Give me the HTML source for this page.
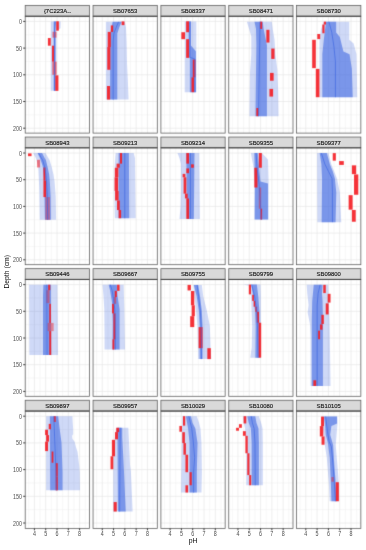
<!DOCTYPE html>
<html><head><meta charset="utf-8"><title>pH depth profiles</title><style>
html,body{margin:0;padding:0;background:#fff;}
svg{display:block;}
#w{width:366px;height:550px;overflow:hidden;}
.mi{stroke:#efefef;stroke-width:0.5;}
.ma{stroke:#e4e4e4;stroke-width:0.65;}
.bd{fill:none;stroke:#555;stroke-width:0.75;}
.sp{fill:#d9d9d9;stroke:#555;stroke-width:0.75;}
.rd{fill:#f41c22;fill-opacity:0.9;}
.lb{fill-opacity:0.25;}
.db{fill-opacity:0.6;}
.sb{stroke:#333;stroke-width:0.8;}
.tk{stroke:#333;stroke-width:1;}
text{font-family:"Liberation Sans",Arial,sans-serif;}
.st{font-size:5.9px;fill:#1a1a1a;stroke:#1a1a1a;stroke-width:0.15px;text-anchor:middle;}
.yl{font-size:6.4px;fill:#4d4d4d;text-anchor:end;}
.xl{font-size:6.4px;fill:#4d4d4d;text-anchor:middle;}
.ti{font-size:6.8px;fill:#000;text-anchor:middle;}
</style></head>
<body><div id="w"><svg width="366" height="550" viewBox="0 0 366 550">
<defs><filter id="bl" x="0" y="0" width="1" height="1" color-interpolation-filters="sRGB"><feConvolveMatrix order="3" kernelMatrix="0.0144 0.0912 0.0144 0.0912 0.5776 0.0912 0.0144 0.0912 0.0144" edgeMode="duplicate" preserveAlpha="true"/></filter><filter id="bt" x="0" y="0" width="366" height="550" filterUnits="userSpaceOnUse" color-interpolation-filters="sRGB"><feConvolveMatrix order="3" kernelMatrix="0.0064 0.0672 0.0064 0.0672 0.7056 0.0672 0.0064 0.0672 0.0064" edgeMode="none"/></filter></defs>
<g filter="url(#bl)"><rect width="366" height="550" fill="#fff"/>
<clipPath id="c00"><rect x="25.2" y="16.2" width="64.25" height="116.9"/></clipPath>
<rect x="25.2" y="16.2" width="64.25" height="116.9" fill="#fff"/>
<g clip-path="url(#c00)"><line x1="28.75" y1="16.2" x2="28.75" y2="133.1" class="mi"/><line x1="40.05" y1="16.2" x2="40.05" y2="133.1" class="mi"/><line x1="51.35" y1="16.2" x2="51.35" y2="133.1" class="mi"/><line x1="62.65" y1="16.2" x2="62.65" y2="133.1" class="mi"/><line x1="73.95" y1="16.2" x2="73.95" y2="133.1" class="mi"/><line x1="85.25" y1="16.2" x2="85.25" y2="133.1" class="mi"/><line x1="25.2" y1="34.75" x2="89.45" y2="34.75" class="mi"/><line x1="25.2" y1="61.45" x2="89.45" y2="61.45" class="mi"/><line x1="25.2" y1="88.15" x2="89.45" y2="88.15" class="mi"/><line x1="25.2" y1="114.85" x2="89.45" y2="114.85" class="mi"/><line x1="34.4" y1="16.2" x2="34.4" y2="133.1" class="ma"/><line x1="45.7" y1="16.2" x2="45.7" y2="133.1" class="ma"/><line x1="57" y1="16.2" x2="57" y2="133.1" class="ma"/><line x1="68.3" y1="16.2" x2="68.3" y2="133.1" class="ma"/><line x1="79.6" y1="16.2" x2="79.6" y2="133.1" class="ma"/><line x1="25.2" y1="21.4" x2="89.45" y2="21.4" class="ma"/><line x1="25.2" y1="48.1" x2="89.45" y2="48.1" class="ma"/><line x1="25.2" y1="74.8" x2="89.45" y2="74.8" class="ma"/><line x1="25.2" y1="101.5" x2="89.45" y2="101.5" class="ma"/><line x1="25.2" y1="128.2" x2="89.45" y2="128.2" class="ma"/><polygon points="50.78,21.41 50.78,90.85 56.37,90.85 56.37,30.96 60.46,28.23 60.74,21.41" fill="#4169e1" class="lb"/><polygon points="53.64,21.41 53.64,90.85 55.55,90.85 55.55,28.91 56.1,21.41" fill="#4169e1" class="db"/><rect x="56.23" y="21.27" width="2.59" height="9.41" class="rd"/><rect x="52.55" y="31.78" width="3.96" height="5.87" class="rd" style="fill-opacity:0.55"/><rect x="47.91" y="38.05" width="2.86" height="7.64" class="rd"/><rect x="52.01" y="45.69" width="2.05" height="15.96" class="rd"/><rect x="52.28" y="61.66" width="4.37" height="13.1" class="rd" style="fill-opacity:0.55"/><rect x="55.28" y="75.3" width="3.14" height="15.55" class="rd"/><polyline points="55.01,21.41 54.6,31.64 54.6,90.85" fill="none" stroke="#4169e1" stroke-width="0.7"/></g>
<rect x="25.2" y="16.2" width="64.25" height="116.9" class="bd"/>
<rect x="25.2" y="5.45" width="64.25" height="10.75" class="sp"/>
<line x1="25.2" y1="16.2" x2="89.45" y2="16.2" class="sb"/>
<clipPath id="c01"><rect x="93.05" y="16.2" width="64.25" height="116.9"/></clipPath>
<rect x="93.05" y="16.2" width="64.25" height="116.9" fill="#fff"/>
<g clip-path="url(#c01)"><line x1="96.6" y1="16.2" x2="96.6" y2="133.1" class="mi"/><line x1="107.9" y1="16.2" x2="107.9" y2="133.1" class="mi"/><line x1="119.2" y1="16.2" x2="119.2" y2="133.1" class="mi"/><line x1="130.5" y1="16.2" x2="130.5" y2="133.1" class="mi"/><line x1="141.8" y1="16.2" x2="141.8" y2="133.1" class="mi"/><line x1="153.1" y1="16.2" x2="153.1" y2="133.1" class="mi"/><line x1="93.05" y1="34.75" x2="157.3" y2="34.75" class="mi"/><line x1="93.05" y1="61.45" x2="157.3" y2="61.45" class="mi"/><line x1="93.05" y1="88.15" x2="157.3" y2="88.15" class="mi"/><line x1="93.05" y1="114.85" x2="157.3" y2="114.85" class="mi"/><line x1="102.25" y1="16.2" x2="102.25" y2="133.1" class="ma"/><line x1="113.55" y1="16.2" x2="113.55" y2="133.1" class="ma"/><line x1="124.85" y1="16.2" x2="124.85" y2="133.1" class="ma"/><line x1="136.15" y1="16.2" x2="136.15" y2="133.1" class="ma"/><line x1="147.45" y1="16.2" x2="147.45" y2="133.1" class="ma"/><line x1="93.05" y1="21.4" x2="157.3" y2="21.4" class="ma"/><line x1="93.05" y1="48.1" x2="157.3" y2="48.1" class="ma"/><line x1="93.05" y1="74.8" x2="157.3" y2="74.8" class="ma"/><line x1="93.05" y1="101.5" x2="157.3" y2="101.5" class="ma"/><line x1="93.05" y1="128.2" x2="157.3" y2="128.2" class="ma"/><polygon points="105.87,21.86 105.87,99.61 128.59,99.61 127.82,79.82 127.05,64.37 126.58,41.18 125.97,27.27 124.73,21.86" fill="#4169e1" class="lb"/><polygon points="112.67,21.86 110.2,33.46 110.05,99.61 117.31,99.61 117.31,33.46 119.32,27.27 121.64,21.86" fill="#4169e1" class="db"/><rect x="121.64" y="21.4" width="2.78" height="3.71" class="rd"/><rect x="110.82" y="25.42" width="2.32" height="6.49" class="rd"/><rect x="107.73" y="31.91" width="3.09" height="15.15" class="rd"/><rect x="107.26" y="47.06" width="3.09" height="22.72" class="rd"/><rect x="106.96" y="86.01" width="3.09" height="13.6" class="rd"/><polyline points="118.55,21.86 116.23,27.27 113.91,33.46 113.14,41.18 113.14,99.61" fill="none" stroke="#4169e1" stroke-width="0.7"/></g>
<rect x="93.05" y="16.2" width="64.25" height="116.9" class="bd"/>
<rect x="93.05" y="5.45" width="64.25" height="10.75" class="sp"/>
<line x1="93.05" y1="16.2" x2="157.3" y2="16.2" class="sb"/>
<clipPath id="c02"><rect x="160.9" y="16.2" width="64.25" height="116.9"/></clipPath>
<rect x="160.9" y="16.2" width="64.25" height="116.9" fill="#fff"/>
<g clip-path="url(#c02)"><line x1="164.45" y1="16.2" x2="164.45" y2="133.1" class="mi"/><line x1="175.75" y1="16.2" x2="175.75" y2="133.1" class="mi"/><line x1="187.05" y1="16.2" x2="187.05" y2="133.1" class="mi"/><line x1="198.35" y1="16.2" x2="198.35" y2="133.1" class="mi"/><line x1="209.65" y1="16.2" x2="209.65" y2="133.1" class="mi"/><line x1="220.95" y1="16.2" x2="220.95" y2="133.1" class="mi"/><line x1="160.9" y1="34.75" x2="225.15" y2="34.75" class="mi"/><line x1="160.9" y1="61.45" x2="225.15" y2="61.45" class="mi"/><line x1="160.9" y1="88.15" x2="225.15" y2="88.15" class="mi"/><line x1="160.9" y1="114.85" x2="225.15" y2="114.85" class="mi"/><line x1="170.1" y1="16.2" x2="170.1" y2="133.1" class="ma"/><line x1="181.4" y1="16.2" x2="181.4" y2="133.1" class="ma"/><line x1="192.7" y1="16.2" x2="192.7" y2="133.1" class="ma"/><line x1="204" y1="16.2" x2="204" y2="133.1" class="ma"/><line x1="215.3" y1="16.2" x2="215.3" y2="133.1" class="ma"/><line x1="160.9" y1="21.4" x2="225.15" y2="21.4" class="ma"/><line x1="160.9" y1="48.1" x2="225.15" y2="48.1" class="ma"/><line x1="160.9" y1="74.8" x2="225.15" y2="74.8" class="ma"/><line x1="160.9" y1="101.5" x2="225.15" y2="101.5" class="ma"/><line x1="160.9" y1="128.2" x2="225.15" y2="128.2" class="ma"/><polygon points="184.74,21.4 184.74,92.19 196.33,92.19 196.33,21.4" fill="#4169e1" class="lb"/><polygon points="188.6,21.4 188.6,56.64 189.84,58.49 189.84,92.19 196.02,92.19 195.87,51.23 190.92,45.51 190.92,21.4" fill="#4169e1" class="db"/><rect x="186.13" y="21.25" width="2.94" height="10.97" class="rd"/><rect x="181.34" y="32.22" width="3.71" height="6.96" class="rd"/><rect x="186.13" y="39.17" width="2.94" height="18.7" class="rd"/><rect x="192.77" y="59.58" width="2.63" height="17.77" class="rd"/><rect x="191.54" y="77.35" width="2.63" height="14.84" class="rd"/><polyline points="189.99,21.4 189.99,57.41 194.78,58.96 194.94,92.19" fill="none" stroke="#4169e1" stroke-width="0.7"/></g>
<rect x="160.9" y="16.2" width="64.25" height="116.9" class="bd"/>
<rect x="160.9" y="5.45" width="64.25" height="10.75" class="sp"/>
<line x1="160.9" y1="16.2" x2="225.15" y2="16.2" class="sb"/>
<clipPath id="c03"><rect x="228.75" y="16.2" width="64.25" height="116.9"/></clipPath>
<rect x="228.75" y="16.2" width="64.25" height="116.9" fill="#fff"/>
<g clip-path="url(#c03)"><line x1="232.3" y1="16.2" x2="232.3" y2="133.1" class="mi"/><line x1="243.6" y1="16.2" x2="243.6" y2="133.1" class="mi"/><line x1="254.9" y1="16.2" x2="254.9" y2="133.1" class="mi"/><line x1="266.2" y1="16.2" x2="266.2" y2="133.1" class="mi"/><line x1="277.5" y1="16.2" x2="277.5" y2="133.1" class="mi"/><line x1="288.8" y1="16.2" x2="288.8" y2="133.1" class="mi"/><line x1="228.75" y1="34.75" x2="293" y2="34.75" class="mi"/><line x1="228.75" y1="61.45" x2="293" y2="61.45" class="mi"/><line x1="228.75" y1="88.15" x2="293" y2="88.15" class="mi"/><line x1="228.75" y1="114.85" x2="293" y2="114.85" class="mi"/><line x1="237.95" y1="16.2" x2="237.95" y2="133.1" class="ma"/><line x1="249.25" y1="16.2" x2="249.25" y2="133.1" class="ma"/><line x1="260.55" y1="16.2" x2="260.55" y2="133.1" class="ma"/><line x1="271.85" y1="16.2" x2="271.85" y2="133.1" class="ma"/><line x1="283.15" y1="16.2" x2="283.15" y2="133.1" class="ma"/><line x1="228.75" y1="21.4" x2="293" y2="21.4" class="ma"/><line x1="228.75" y1="48.1" x2="293" y2="48.1" class="ma"/><line x1="228.75" y1="74.8" x2="293" y2="74.8" class="ma"/><line x1="228.75" y1="101.5" x2="293" y2="101.5" class="ma"/><line x1="228.75" y1="128.2" x2="293" y2="128.2" class="ma"/><polygon points="246.91,21.64 249.09,28.91 251.27,36.18 251.27,54.36 250,72.55 249.45,116.18 278.55,116.18 278.18,90.73 277.27,68.91 275.45,54.36 274.55,39.82 272.73,28.91 271.82,21.64" fill="#4169e1" class="lb"/><polygon points="254.55,21.64 256,28.91 256.36,45.27 255.45,116.18 266.91,116.18 266.91,45.27 263.64,28.91 262.73,21.64" fill="#4169e1" class="db"/><rect x="260" y="21.64" width="2.18" height="7.27" class="rd"/><rect x="266.36" y="29.82" width="3.09" height="12.73" class="rd"/><rect x="271.27" y="48.55" width="3.27" height="10.36" class="rd"/><rect x="270" y="72.91" width="3.64" height="7.82" class="rd"/><rect x="269.45" y="88.91" width="3.64" height="7.64" class="rd"/><rect x="256.36" y="108" width="2.18" height="8.18" class="rd"/><polyline points="260,21.64 259.64,45.27 258.55,116.18" fill="none" stroke="#4169e1" stroke-width="0.7"/></g>
<rect x="228.75" y="16.2" width="64.25" height="116.9" class="bd"/>
<rect x="228.75" y="5.45" width="64.25" height="10.75" class="sp"/>
<line x1="228.75" y1="16.2" x2="293" y2="16.2" class="sb"/>
<clipPath id="c04"><rect x="296.6" y="16.2" width="64.25" height="116.9"/></clipPath>
<rect x="296.6" y="16.2" width="64.25" height="116.9" fill="#fff"/>
<g clip-path="url(#c04)"><line x1="300.15" y1="16.2" x2="300.15" y2="133.1" class="mi"/><line x1="311.45" y1="16.2" x2="311.45" y2="133.1" class="mi"/><line x1="322.75" y1="16.2" x2="322.75" y2="133.1" class="mi"/><line x1="334.05" y1="16.2" x2="334.05" y2="133.1" class="mi"/><line x1="345.35" y1="16.2" x2="345.35" y2="133.1" class="mi"/><line x1="356.65" y1="16.2" x2="356.65" y2="133.1" class="mi"/><line x1="296.6" y1="34.75" x2="360.85" y2="34.75" class="mi"/><line x1="296.6" y1="61.45" x2="360.85" y2="61.45" class="mi"/><line x1="296.6" y1="88.15" x2="360.85" y2="88.15" class="mi"/><line x1="296.6" y1="114.85" x2="360.85" y2="114.85" class="mi"/><line x1="305.8" y1="16.2" x2="305.8" y2="133.1" class="ma"/><line x1="317.1" y1="16.2" x2="317.1" y2="133.1" class="ma"/><line x1="328.4" y1="16.2" x2="328.4" y2="133.1" class="ma"/><line x1="339.7" y1="16.2" x2="339.7" y2="133.1" class="ma"/><line x1="351" y1="16.2" x2="351" y2="133.1" class="ma"/><line x1="296.6" y1="21.4" x2="360.85" y2="21.4" class="ma"/><line x1="296.6" y1="48.1" x2="360.85" y2="48.1" class="ma"/><line x1="296.6" y1="74.8" x2="360.85" y2="74.8" class="ma"/><line x1="296.6" y1="101.5" x2="360.85" y2="101.5" class="ma"/><line x1="296.6" y1="128.2" x2="360.85" y2="128.2" class="ma"/><polygon points="323.81,21.63 320.9,29.63 319.45,39.8 319.45,97.22 357.24,97.22 356.51,54.34 353.6,43.44 349.24,39.8 349.24,21.63" fill="#4169e1" class="lb"/><polygon points="325.99,21.63 323.81,39.8 322.35,54.34 322.35,97.22 352.73,97.22 351.86,68.87 349.53,54.34 343.43,51.43 339.8,36.9 336.16,32.53 336.16,21.63" fill="#4169e1" class="db"/><rect x="323.81" y="21.63" width="2.18" height="2.91" class="rd"/><rect x="322.35" y="24.54" width="2.18" height="8.72" class="rd"/><rect x="317.27" y="33.99" width="2.91" height="5.09" class="rd"/><rect x="312.18" y="39.8" width="3.63" height="28.34" class="rd"/><rect x="315.81" y="68.87" width="3.63" height="28.34" class="rd"/><polyline points="328.9,21.63 331.8,32.53 333.98,47.07 335.44,61.6 335.44,97.22" fill="none" stroke="#4169e1" stroke-width="0.7"/></g>
<rect x="296.6" y="16.2" width="64.25" height="116.9" class="bd"/>
<rect x="296.6" y="5.45" width="64.25" height="10.75" class="sp"/>
<line x1="296.6" y1="16.2" x2="360.85" y2="16.2" class="sb"/>
<clipPath id="c10"><rect x="25.2" y="147.8" width="64.25" height="116.9"/></clipPath>
<rect x="25.2" y="147.8" width="64.25" height="116.9" fill="#fff"/>
<g clip-path="url(#c10)"><line x1="28.75" y1="147.8" x2="28.75" y2="264.7" class="mi"/><line x1="40.05" y1="147.8" x2="40.05" y2="264.7" class="mi"/><line x1="51.35" y1="147.8" x2="51.35" y2="264.7" class="mi"/><line x1="62.65" y1="147.8" x2="62.65" y2="264.7" class="mi"/><line x1="73.95" y1="147.8" x2="73.95" y2="264.7" class="mi"/><line x1="85.25" y1="147.8" x2="85.25" y2="264.7" class="mi"/><line x1="25.2" y1="166.35" x2="89.45" y2="166.35" class="mi"/><line x1="25.2" y1="193.05" x2="89.45" y2="193.05" class="mi"/><line x1="25.2" y1="219.75" x2="89.45" y2="219.75" class="mi"/><line x1="25.2" y1="246.45" x2="89.45" y2="246.45" class="mi"/><line x1="34.4" y1="147.8" x2="34.4" y2="264.7" class="ma"/><line x1="45.7" y1="147.8" x2="45.7" y2="264.7" class="ma"/><line x1="57" y1="147.8" x2="57" y2="264.7" class="ma"/><line x1="68.3" y1="147.8" x2="68.3" y2="264.7" class="ma"/><line x1="79.6" y1="147.8" x2="79.6" y2="264.7" class="ma"/><line x1="25.2" y1="153" x2="89.45" y2="153" class="ma"/><line x1="25.2" y1="179.7" x2="89.45" y2="179.7" class="ma"/><line x1="25.2" y1="206.4" x2="89.45" y2="206.4" class="ma"/><line x1="25.2" y1="233.1" x2="89.45" y2="233.1" class="ma"/><line x1="25.2" y1="259.8" x2="89.45" y2="259.8" class="ma"/><polygon points="33.19,153 35.91,158.19 38.23,166.37 38.78,177.29 39.32,190.93 39.73,219.85 56.11,219.85 55.7,196.38 54.6,181.79 53.51,174.56 51.74,167.33 49.56,159.96 48.47,158.19 45.46,153" fill="#4169e1" class="lb"/><polygon points="37.55,153 40.01,158.19 42.74,166.37 43.83,177.29 44.37,190.93 44.92,219.85 50.92,219.85 50.65,196.38 49.83,181.79 49.15,174.56 47.65,167.33 45.87,159.96 44.78,158.19 42.05,153" fill="#4169e1" class="db"/><rect x="28" y="153.41" width="3.55" height="2.73" class="rd"/><rect x="37.01" y="159.82" width="3" height="7.64" class="rd" style="fill-opacity:0.55"/><rect x="43.42" y="167.46" width="2.05" height="13.23" class="rd"/><rect x="43.42" y="180.7" width="2.73" height="16.37" class="rd"/><rect x="45.46" y="197.07" width="4.37" height="22.78" class="rd" style="fill-opacity:0.4"/><polyline points="38.64,153 41.37,158.19 42.6,159.96 44.78,167.33 45.87,174.56 46.56,181.79 47.37,196.38 47.65,219.85" fill="none" stroke="#4169e1" stroke-width="0.7"/></g>
<rect x="25.2" y="147.8" width="64.25" height="116.9" class="bd"/>
<rect x="25.2" y="137.05" width="64.25" height="10.75" class="sp"/>
<line x1="25.2" y1="147.8" x2="89.45" y2="147.8" class="sb"/>
<clipPath id="c11"><rect x="93.05" y="147.8" width="64.25" height="116.9"/></clipPath>
<rect x="93.05" y="147.8" width="64.25" height="116.9" fill="#fff"/>
<g clip-path="url(#c11)"><line x1="96.6" y1="147.8" x2="96.6" y2="264.7" class="mi"/><line x1="107.9" y1="147.8" x2="107.9" y2="264.7" class="mi"/><line x1="119.2" y1="147.8" x2="119.2" y2="264.7" class="mi"/><line x1="130.5" y1="147.8" x2="130.5" y2="264.7" class="mi"/><line x1="141.8" y1="147.8" x2="141.8" y2="264.7" class="mi"/><line x1="153.1" y1="147.8" x2="153.1" y2="264.7" class="mi"/><line x1="93.05" y1="166.35" x2="157.3" y2="166.35" class="mi"/><line x1="93.05" y1="193.05" x2="157.3" y2="193.05" class="mi"/><line x1="93.05" y1="219.75" x2="157.3" y2="219.75" class="mi"/><line x1="93.05" y1="246.45" x2="157.3" y2="246.45" class="mi"/><line x1="102.25" y1="147.8" x2="102.25" y2="264.7" class="ma"/><line x1="113.55" y1="147.8" x2="113.55" y2="264.7" class="ma"/><line x1="124.85" y1="147.8" x2="124.85" y2="264.7" class="ma"/><line x1="136.15" y1="147.8" x2="136.15" y2="264.7" class="ma"/><line x1="147.45" y1="147.8" x2="147.45" y2="264.7" class="ma"/><line x1="93.05" y1="153" x2="157.3" y2="153" class="ma"/><line x1="93.05" y1="179.7" x2="157.3" y2="179.7" class="ma"/><line x1="93.05" y1="206.4" x2="157.3" y2="206.4" class="ma"/><line x1="93.05" y1="233.1" x2="157.3" y2="233.1" class="ma"/><line x1="93.05" y1="259.8" x2="157.3" y2="259.8" class="ma"/><polygon points="115.64,153 114.82,163.64 114.55,204.57 114.82,218.21 135.7,218.21 135.01,158.19 133.65,153" fill="#4169e1" class="lb"/><polygon points="118.64,153 118.64,218.21 129.28,218.21 128.87,153" fill="#4169e1" class="db"/><rect x="120.01" y="153" width="2.05" height="10.64" class="rd"/><rect x="116.6" y="163.64" width="3.14" height="4.09" class="rd"/><rect x="114.82" y="167.74" width="3.55" height="9.55" class="rd"/><rect x="114.55" y="177.29" width="3.55" height="13.64" class="rd"/><rect x="115.1" y="190.93" width="3.55" height="9.55" class="rd"/><rect x="117.01" y="200.48" width="2.73" height="9.55" class="rd"/><rect x="118.64" y="210.03" width="2.46" height="8.19" class="rd"/><polyline points="124.78,153 124.78,218.21" fill="none" stroke="#4169e1" stroke-width="0.7"/></g>
<rect x="93.05" y="147.8" width="64.25" height="116.9" class="bd"/>
<rect x="93.05" y="137.05" width="64.25" height="10.75" class="sp"/>
<line x1="93.05" y1="147.8" x2="157.3" y2="147.8" class="sb"/>
<clipPath id="c12"><rect x="160.9" y="147.8" width="64.25" height="116.9"/></clipPath>
<rect x="160.9" y="147.8" width="64.25" height="116.9" fill="#fff"/>
<g clip-path="url(#c12)"><line x1="164.45" y1="147.8" x2="164.45" y2="264.7" class="mi"/><line x1="175.75" y1="147.8" x2="175.75" y2="264.7" class="mi"/><line x1="187.05" y1="147.8" x2="187.05" y2="264.7" class="mi"/><line x1="198.35" y1="147.8" x2="198.35" y2="264.7" class="mi"/><line x1="209.65" y1="147.8" x2="209.65" y2="264.7" class="mi"/><line x1="220.95" y1="147.8" x2="220.95" y2="264.7" class="mi"/><line x1="160.9" y1="166.35" x2="225.15" y2="166.35" class="mi"/><line x1="160.9" y1="193.05" x2="225.15" y2="193.05" class="mi"/><line x1="160.9" y1="219.75" x2="225.15" y2="219.75" class="mi"/><line x1="160.9" y1="246.45" x2="225.15" y2="246.45" class="mi"/><line x1="170.1" y1="147.8" x2="170.1" y2="264.7" class="ma"/><line x1="181.4" y1="147.8" x2="181.4" y2="264.7" class="ma"/><line x1="192.7" y1="147.8" x2="192.7" y2="264.7" class="ma"/><line x1="204" y1="147.8" x2="204" y2="264.7" class="ma"/><line x1="215.3" y1="147.8" x2="215.3" y2="264.7" class="ma"/><line x1="160.9" y1="153" x2="225.15" y2="153" class="ma"/><line x1="160.9" y1="179.7" x2="225.15" y2="179.7" class="ma"/><line x1="160.9" y1="206.4" x2="225.15" y2="206.4" class="ma"/><line x1="160.9" y1="233.1" x2="225.15" y2="233.1" class="ma"/><line x1="160.9" y1="259.8" x2="225.15" y2="259.8" class="ma"/><polygon points="177.46,153 179.5,158.19 180.87,163.64 180.87,190.93 180.46,207.3 179.5,218.89 199.97,218.89 199.29,153" fill="#4169e1" class="lb"/><polygon points="186.32,153 187.01,218.89 193.83,218.89 194.51,153" fill="#4169e1" class="db"/><rect x="186.32" y="153" width="2.73" height="10.64" class="rd"/><rect x="191.1" y="164.32" width="2.73" height="3.41" class="rd"/><rect x="186.32" y="168.42" width="2.73" height="4.77" class="rd"/><rect x="182.64" y="173.87" width="2.73" height="3.41" class="rd"/><rect x="183.6" y="177.29" width="2.73" height="16.37" class="rd"/><rect x="184.96" y="193.66" width="2.73" height="4.77" class="rd"/><rect x="186.32" y="198.43" width="2.73" height="20.46" class="rd"/><polyline points="190.42,153 190.42,218.89" fill="none" stroke="#4169e1" stroke-width="0.7"/></g>
<rect x="160.9" y="147.8" width="64.25" height="116.9" class="bd"/>
<rect x="160.9" y="137.05" width="64.25" height="10.75" class="sp"/>
<line x1="160.9" y1="147.8" x2="225.15" y2="147.8" class="sb"/>
<clipPath id="c13"><rect x="228.75" y="147.8" width="64.25" height="116.9"/></clipPath>
<rect x="228.75" y="147.8" width="64.25" height="116.9" fill="#fff"/>
<g clip-path="url(#c13)"><line x1="232.3" y1="147.8" x2="232.3" y2="264.7" class="mi"/><line x1="243.6" y1="147.8" x2="243.6" y2="264.7" class="mi"/><line x1="254.9" y1="147.8" x2="254.9" y2="264.7" class="mi"/><line x1="266.2" y1="147.8" x2="266.2" y2="264.7" class="mi"/><line x1="277.5" y1="147.8" x2="277.5" y2="264.7" class="mi"/><line x1="288.8" y1="147.8" x2="288.8" y2="264.7" class="mi"/><line x1="228.75" y1="166.35" x2="293" y2="166.35" class="mi"/><line x1="228.75" y1="193.05" x2="293" y2="193.05" class="mi"/><line x1="228.75" y1="219.75" x2="293" y2="219.75" class="mi"/><line x1="228.75" y1="246.45" x2="293" y2="246.45" class="mi"/><line x1="237.95" y1="147.8" x2="237.95" y2="264.7" class="ma"/><line x1="249.25" y1="147.8" x2="249.25" y2="264.7" class="ma"/><line x1="260.55" y1="147.8" x2="260.55" y2="264.7" class="ma"/><line x1="271.85" y1="147.8" x2="271.85" y2="264.7" class="ma"/><line x1="283.15" y1="147.8" x2="283.15" y2="264.7" class="ma"/><line x1="228.75" y1="153" x2="293" y2="153" class="ma"/><line x1="228.75" y1="179.7" x2="293" y2="179.7" class="ma"/><line x1="228.75" y1="206.4" x2="293" y2="206.4" class="ma"/><line x1="228.75" y1="233.1" x2="293" y2="233.1" class="ma"/><line x1="228.75" y1="259.8" x2="293" y2="259.8" class="ma"/><polygon points="250.91,153 252.01,159.55 253.64,167.74 254.32,184.11 254.32,219.58 268.65,219.58 268.65,182.74 267.97,159.55 261.83,153" fill="#4169e1" class="lb"/><polygon points="254.32,153 255.01,184.11 254.73,219.58 267.97,219.58 267.97,183.42 260.46,181.38 259.1,167.74 257.74,153" fill="#4169e1" class="db"/><rect x="258.83" y="153" width="3" height="14.73" class="rd"/><rect x="254.32" y="167.74" width="3.14" height="19.78" class="rd"/><rect x="258.83" y="187.52" width="2.32" height="21.15" class="rd" style="fill-opacity:0.45"/><rect x="260.46" y="208.66" width="1.64" height="10.91" class="rd"/><polyline points="256.1,153 257.05,167.74 259.1,184.11 260.46,204.57 261.15,219.58" fill="none" stroke="#4169e1" stroke-width="0.7"/></g>
<rect x="228.75" y="147.8" width="64.25" height="116.9" class="bd"/>
<rect x="228.75" y="137.05" width="64.25" height="10.75" class="sp"/>
<line x1="228.75" y1="147.8" x2="293" y2="147.8" class="sb"/>
<clipPath id="c14"><rect x="296.6" y="147.8" width="64.25" height="116.9"/></clipPath>
<rect x="296.6" y="147.8" width="64.25" height="116.9" fill="#fff"/>
<g clip-path="url(#c14)"><line x1="300.15" y1="147.8" x2="300.15" y2="264.7" class="mi"/><line x1="311.45" y1="147.8" x2="311.45" y2="264.7" class="mi"/><line x1="322.75" y1="147.8" x2="322.75" y2="264.7" class="mi"/><line x1="334.05" y1="147.8" x2="334.05" y2="264.7" class="mi"/><line x1="345.35" y1="147.8" x2="345.35" y2="264.7" class="mi"/><line x1="356.65" y1="147.8" x2="356.65" y2="264.7" class="mi"/><line x1="296.6" y1="166.35" x2="360.85" y2="166.35" class="mi"/><line x1="296.6" y1="193.05" x2="360.85" y2="193.05" class="mi"/><line x1="296.6" y1="219.75" x2="360.85" y2="219.75" class="mi"/><line x1="296.6" y1="246.45" x2="360.85" y2="246.45" class="mi"/><line x1="305.8" y1="147.8" x2="305.8" y2="264.7" class="ma"/><line x1="317.1" y1="147.8" x2="317.1" y2="264.7" class="ma"/><line x1="328.4" y1="147.8" x2="328.4" y2="264.7" class="ma"/><line x1="339.7" y1="147.8" x2="339.7" y2="264.7" class="ma"/><line x1="351" y1="147.8" x2="351" y2="264.7" class="ma"/><line x1="296.6" y1="153" x2="360.85" y2="153" class="ma"/><line x1="296.6" y1="179.7" x2="360.85" y2="179.7" class="ma"/><line x1="296.6" y1="206.4" x2="360.85" y2="206.4" class="ma"/><line x1="296.6" y1="233.1" x2="360.85" y2="233.1" class="ma"/><line x1="296.6" y1="259.8" x2="360.85" y2="259.8" class="ma"/><polygon points="317.1,153.12 317.39,222.16 341.25,222.16 340.54,206.82 339.83,192.61 336.99,178.41 331.31,164.2 328.47,153.12" fill="#4169e1" class="lb"/><polygon points="319.66,153.12 321.36,164.2 322.07,178.41 321.65,222.16 335.57,222.16 336.28,192.61 334.86,178.41 332.73,171.31 329.89,164.2 326.76,153.12" fill="#4169e1" class="db"/><rect x="332.73" y="153.12" width="3.12" height="7.53" class="rd"/><rect x="339.12" y="161.08" width="4.69" height="3.84" class="rd"/><rect x="351.9" y="165.34" width="4.26" height="8.81" class="rd"/><rect x="354.03" y="174.43" width="4.26" height="20.31" class="rd"/><rect x="348.64" y="195.17" width="3.98" height="14.49" class="rd"/><rect x="351.9" y="209.94" width="3.84" height="11.79" class="rd"/><polyline points="321.36,153.12 324.91,164.2 328.47,171.31 332.02,178.41 332.44,192.61 332.44,222.16" fill="none" stroke="#4169e1" stroke-width="0.7"/></g>
<rect x="296.6" y="147.8" width="64.25" height="116.9" class="bd"/>
<rect x="296.6" y="137.05" width="64.25" height="10.75" class="sp"/>
<line x1="296.6" y1="147.8" x2="360.85" y2="147.8" class="sb"/>
<clipPath id="c20"><rect x="25.2" y="279.4" width="64.25" height="116.9"/></clipPath>
<rect x="25.2" y="279.4" width="64.25" height="116.9" fill="#fff"/>
<g clip-path="url(#c20)"><line x1="28.75" y1="279.4" x2="28.75" y2="396.3" class="mi"/><line x1="40.05" y1="279.4" x2="40.05" y2="396.3" class="mi"/><line x1="51.35" y1="279.4" x2="51.35" y2="396.3" class="mi"/><line x1="62.65" y1="279.4" x2="62.65" y2="396.3" class="mi"/><line x1="73.95" y1="279.4" x2="73.95" y2="396.3" class="mi"/><line x1="85.25" y1="279.4" x2="85.25" y2="396.3" class="mi"/><line x1="25.2" y1="297.95" x2="89.45" y2="297.95" class="mi"/><line x1="25.2" y1="324.65" x2="89.45" y2="324.65" class="mi"/><line x1="25.2" y1="351.35" x2="89.45" y2="351.35" class="mi"/><line x1="25.2" y1="378.05" x2="89.45" y2="378.05" class="mi"/><line x1="34.4" y1="279.4" x2="34.4" y2="396.3" class="ma"/><line x1="45.7" y1="279.4" x2="45.7" y2="396.3" class="ma"/><line x1="57" y1="279.4" x2="57" y2="396.3" class="ma"/><line x1="68.3" y1="279.4" x2="68.3" y2="396.3" class="ma"/><line x1="79.6" y1="279.4" x2="79.6" y2="396.3" class="ma"/><line x1="25.2" y1="284.6" x2="89.45" y2="284.6" class="ma"/><line x1="25.2" y1="311.3" x2="89.45" y2="311.3" class="ma"/><line x1="25.2" y1="338" x2="89.45" y2="338" class="ma"/><line x1="25.2" y1="364.7" x2="89.45" y2="364.7" class="ma"/><line x1="25.2" y1="391.4" x2="89.45" y2="391.4" class="ma"/><polygon points="29.09,284.73 29.37,354.99 58.02,354.99 57.47,284.73" fill="#4169e1" class="lb"/><polygon points="43.42,284.73 43.01,295.64 43.01,354.99 51.19,354.99 50.92,284.73" fill="#4169e1" class="db"/><rect x="48.19" y="284.73" width="2.05" height="5.46" class="rd"/><rect x="46.15" y="290.19" width="3.41" height="12.96" class="rd" style="fill-opacity:0.45"/><rect x="49.28" y="303.83" width="1.64" height="19.1" class="rd"/><rect x="47.51" y="322.93" width="6.14" height="8.19" class="rd" style="fill-opacity:0.45"/><rect x="49.28" y="331.11" width="1.91" height="23.87" class="rd"/><polyline points="46.83,284.73 47.1,354.99" fill="none" stroke="#4169e1" stroke-width="0.7"/></g>
<rect x="25.2" y="279.4" width="64.25" height="116.9" class="bd"/>
<rect x="25.2" y="268.65" width="64.25" height="10.75" class="sp"/>
<line x1="25.2" y1="279.4" x2="89.45" y2="279.4" class="sb"/>
<clipPath id="c21"><rect x="93.05" y="279.4" width="64.25" height="116.9"/></clipPath>
<rect x="93.05" y="279.4" width="64.25" height="116.9" fill="#fff"/>
<g clip-path="url(#c21)"><line x1="96.6" y1="279.4" x2="96.6" y2="396.3" class="mi"/><line x1="107.9" y1="279.4" x2="107.9" y2="396.3" class="mi"/><line x1="119.2" y1="279.4" x2="119.2" y2="396.3" class="mi"/><line x1="130.5" y1="279.4" x2="130.5" y2="396.3" class="mi"/><line x1="141.8" y1="279.4" x2="141.8" y2="396.3" class="mi"/><line x1="153.1" y1="279.4" x2="153.1" y2="396.3" class="mi"/><line x1="93.05" y1="297.95" x2="157.3" y2="297.95" class="mi"/><line x1="93.05" y1="324.65" x2="157.3" y2="324.65" class="mi"/><line x1="93.05" y1="351.35" x2="157.3" y2="351.35" class="mi"/><line x1="93.05" y1="378.05" x2="157.3" y2="378.05" class="mi"/><line x1="102.25" y1="279.4" x2="102.25" y2="396.3" class="ma"/><line x1="113.55" y1="279.4" x2="113.55" y2="396.3" class="ma"/><line x1="124.85" y1="279.4" x2="124.85" y2="396.3" class="ma"/><line x1="136.15" y1="279.4" x2="136.15" y2="396.3" class="ma"/><line x1="147.45" y1="279.4" x2="147.45" y2="396.3" class="ma"/><line x1="93.05" y1="284.6" x2="157.3" y2="284.6" class="ma"/><line x1="93.05" y1="311.3" x2="157.3" y2="311.3" class="ma"/><line x1="93.05" y1="338" x2="157.3" y2="338" class="ma"/><line x1="93.05" y1="364.7" x2="157.3" y2="364.7" class="ma"/><line x1="93.05" y1="391.4" x2="157.3" y2="391.4" class="ma"/><polygon points="102.5,284.73 103.46,295.64 104.28,309.29 104.55,336.57 104.55,349.53 125.01,349.53 124.33,309.29 123.65,284.73" fill="#4169e1" class="lb"/><polygon points="108.64,284.73 110.01,290.19 112.05,302.46 112.74,322.93 112.46,349.53 119.56,349.53 119.56,309.29 117.51,295.64 116.83,284.73" fill="#4169e1" class="db"/><rect x="117.1" y="284.73" width="2.46" height="6.14" class="rd"/><rect x="114.78" y="290.87" width="2.05" height="6.14" class="rd"/><rect x="113.83" y="297.01" width="2.32" height="6.82" class="rd" style="fill-opacity:0.5"/><rect x="112.05" y="303.83" width="2.05" height="9.55" class="rd"/><rect x="113.42" y="313.38" width="2.05" height="25.92" class="rd"/><rect x="112.46" y="339.3" width="1.91" height="10.23" class="rd"/><polyline points="110.28,284.73 112.05,290.19 113.42,298.37 114.78,309.29 115.19,322.93 115.46,349.53" fill="none" stroke="#4169e1" stroke-width="0.7"/></g>
<rect x="93.05" y="279.4" width="64.25" height="116.9" class="bd"/>
<rect x="93.05" y="268.65" width="64.25" height="10.75" class="sp"/>
<line x1="93.05" y1="279.4" x2="157.3" y2="279.4" class="sb"/>
<clipPath id="c22"><rect x="160.9" y="279.4" width="64.25" height="116.9"/></clipPath>
<rect x="160.9" y="279.4" width="64.25" height="116.9" fill="#fff"/>
<g clip-path="url(#c22)"><line x1="164.45" y1="279.4" x2="164.45" y2="396.3" class="mi"/><line x1="175.75" y1="279.4" x2="175.75" y2="396.3" class="mi"/><line x1="187.05" y1="279.4" x2="187.05" y2="396.3" class="mi"/><line x1="198.35" y1="279.4" x2="198.35" y2="396.3" class="mi"/><line x1="209.65" y1="279.4" x2="209.65" y2="396.3" class="mi"/><line x1="220.95" y1="279.4" x2="220.95" y2="396.3" class="mi"/><line x1="160.9" y1="297.95" x2="225.15" y2="297.95" class="mi"/><line x1="160.9" y1="324.65" x2="225.15" y2="324.65" class="mi"/><line x1="160.9" y1="351.35" x2="225.15" y2="351.35" class="mi"/><line x1="160.9" y1="378.05" x2="225.15" y2="378.05" class="mi"/><line x1="170.1" y1="279.4" x2="170.1" y2="396.3" class="ma"/><line x1="181.4" y1="279.4" x2="181.4" y2="396.3" class="ma"/><line x1="192.7" y1="279.4" x2="192.7" y2="396.3" class="ma"/><line x1="204" y1="279.4" x2="204" y2="396.3" class="ma"/><line x1="215.3" y1="279.4" x2="215.3" y2="396.3" class="ma"/><line x1="160.9" y1="284.6" x2="225.15" y2="284.6" class="ma"/><line x1="160.9" y1="311.3" x2="225.15" y2="311.3" class="ma"/><line x1="160.9" y1="338" x2="225.15" y2="338" class="ma"/><line x1="160.9" y1="364.7" x2="225.15" y2="364.7" class="ma"/><line x1="160.9" y1="391.4" x2="225.15" y2="391.4" class="ma"/><polygon points="193.38,284.91 194.55,296.55 196,311.09 197.45,325.64 198.18,359.09 211.27,359.09 210.55,347.45 209.82,325.64 206.91,311.09 203.27,296.55 201.82,284.91" fill="#4169e1" class="lb"/><polygon points="193.82,284.91 196.73,296.55 198.91,311.09 199.64,325.64 199.64,359.09 202.55,359.09 202.55,325.64 201.82,311.09 200.07,296.55 198.18,284.91" fill="#4169e1" class="db"/><rect x="187.56" y="284.91" width="3.35" height="5.53" class="rd"/><rect x="190.91" y="291.02" width="3.35" height="14.25" class="rd"/><rect x="191.64" y="305.27" width="3.2" height="10.91" class="rd"/><rect x="190.18" y="316.18" width="4.07" height="10.91" class="rd"/><rect x="198.62" y="327.09" width="3.93" height="21.09" class="rd"/><rect x="207.35" y="348.18" width="3.49" height="10.91" class="rd"/><polyline points="197.16,284.91 198.62,296.55 200.36,311.09 201.09,325.64 201.53,359.09" fill="none" stroke="#4169e1" stroke-width="0.7"/></g>
<rect x="160.9" y="279.4" width="64.25" height="116.9" class="bd"/>
<rect x="160.9" y="268.65" width="64.25" height="10.75" class="sp"/>
<line x1="160.9" y1="279.4" x2="225.15" y2="279.4" class="sb"/>
<clipPath id="c23"><rect x="228.75" y="279.4" width="64.25" height="116.9"/></clipPath>
<rect x="228.75" y="279.4" width="64.25" height="116.9" fill="#fff"/>
<g clip-path="url(#c23)"><line x1="232.3" y1="279.4" x2="232.3" y2="396.3" class="mi"/><line x1="243.6" y1="279.4" x2="243.6" y2="396.3" class="mi"/><line x1="254.9" y1="279.4" x2="254.9" y2="396.3" class="mi"/><line x1="266.2" y1="279.4" x2="266.2" y2="396.3" class="mi"/><line x1="277.5" y1="279.4" x2="277.5" y2="396.3" class="mi"/><line x1="288.8" y1="279.4" x2="288.8" y2="396.3" class="mi"/><line x1="228.75" y1="297.95" x2="293" y2="297.95" class="mi"/><line x1="228.75" y1="324.65" x2="293" y2="324.65" class="mi"/><line x1="228.75" y1="351.35" x2="293" y2="351.35" class="mi"/><line x1="228.75" y1="378.05" x2="293" y2="378.05" class="mi"/><line x1="237.95" y1="279.4" x2="237.95" y2="396.3" class="ma"/><line x1="249.25" y1="279.4" x2="249.25" y2="396.3" class="ma"/><line x1="260.55" y1="279.4" x2="260.55" y2="396.3" class="ma"/><line x1="271.85" y1="279.4" x2="271.85" y2="396.3" class="ma"/><line x1="283.15" y1="279.4" x2="283.15" y2="396.3" class="ma"/><line x1="228.75" y1="284.6" x2="293" y2="284.6" class="ma"/><line x1="228.75" y1="311.3" x2="293" y2="311.3" class="ma"/><line x1="228.75" y1="338" x2="293" y2="338" class="ma"/><line x1="228.75" y1="364.7" x2="293" y2="364.7" class="ma"/><line x1="228.75" y1="391.4" x2="293" y2="391.4" class="ma"/><polygon points="243,284.62 249.55,285.64 251,296.55 252.16,325.64 251.73,347.45 250.27,357.64 260.89,357.64 260.89,296.55 260.45,284.62" fill="#4169e1" class="lb"/><polygon points="251.29,284.62 253.18,296.55 255.07,311.09 255.65,325.64 255.36,357.64 259.73,357.64 259.44,311.09 258.27,296.55 256.82,284.62" fill="#4169e1" class="db"/><rect x="248.82" y="284.62" width="2.18" height="9.75" class="rd"/><rect x="252.16" y="294.8" width="1.75" height="6.11" class="rd"/><rect x="253.62" y="300.91" width="1.75" height="5.82" class="rd"/><rect x="255.36" y="306.73" width="1.75" height="5.09" class="rd"/><rect x="256.82" y="311.82" width="2.18" height="10.91" class="rd"/><rect x="258.56" y="322.73" width="2.62" height="34.91" class="rd"/><polyline points="251.73,284.62 253.18,290.73 254.64,296.55 256.82,311.09 257.55,325.64 257.98,357.64" fill="none" stroke="#4169e1" stroke-width="0.7"/></g>
<rect x="228.75" y="279.4" width="64.25" height="116.9" class="bd"/>
<rect x="228.75" y="268.65" width="64.25" height="10.75" class="sp"/>
<line x1="228.75" y1="279.4" x2="293" y2="279.4" class="sb"/>
<clipPath id="c24"><rect x="296.6" y="279.4" width="64.25" height="116.9"/></clipPath>
<rect x="296.6" y="279.4" width="64.25" height="116.9" fill="#fff"/>
<g clip-path="url(#c24)"><line x1="300.15" y1="279.4" x2="300.15" y2="396.3" class="mi"/><line x1="311.45" y1="279.4" x2="311.45" y2="396.3" class="mi"/><line x1="322.75" y1="279.4" x2="322.75" y2="396.3" class="mi"/><line x1="334.05" y1="279.4" x2="334.05" y2="396.3" class="mi"/><line x1="345.35" y1="279.4" x2="345.35" y2="396.3" class="mi"/><line x1="356.65" y1="279.4" x2="356.65" y2="396.3" class="mi"/><line x1="296.6" y1="297.95" x2="360.85" y2="297.95" class="mi"/><line x1="296.6" y1="324.65" x2="360.85" y2="324.65" class="mi"/><line x1="296.6" y1="351.35" x2="360.85" y2="351.35" class="mi"/><line x1="296.6" y1="378.05" x2="360.85" y2="378.05" class="mi"/><line x1="305.8" y1="279.4" x2="305.8" y2="396.3" class="ma"/><line x1="317.1" y1="279.4" x2="317.1" y2="396.3" class="ma"/><line x1="328.4" y1="279.4" x2="328.4" y2="396.3" class="ma"/><line x1="339.7" y1="279.4" x2="339.7" y2="396.3" class="ma"/><line x1="351" y1="279.4" x2="351" y2="396.3" class="ma"/><line x1="296.6" y1="284.6" x2="360.85" y2="284.6" class="ma"/><line x1="296.6" y1="311.3" x2="360.85" y2="311.3" class="ma"/><line x1="296.6" y1="338" x2="360.85" y2="338" class="ma"/><line x1="296.6" y1="364.7" x2="360.85" y2="364.7" class="ma"/><line x1="296.6" y1="391.4" x2="360.85" y2="391.4" class="ma"/><polygon points="306.68,284.86 307.25,293.45 308.59,304.9 307.63,312.53 309.92,323.98 310.5,339.25 310.5,386.01 330.53,386.01 329.58,320.17 328.63,301.08 328.24,284.86" fill="#4169e1" class="lb"/><polygon points="313.74,284.86 312.21,301.08 311.83,320.17 311.83,386.01 322.9,386.01 322.9,320.17 322.52,301.08 321.95,293.45 322.52,284.86" fill="#4169e1" class="db"/><rect x="323.28" y="284.86" width="2.48" height="8.21" class="rd"/><rect x="327.67" y="293.83" width="2.86" height="8.78" class="rd"/><rect x="325.76" y="303.37" width="2.86" height="11.07" class="rd"/><rect x="321.37" y="314.82" width="2.48" height="9.16" class="rd"/><rect x="320.04" y="324.37" width="2.48" height="5.34" class="rd"/><rect x="318.13" y="330.66" width="1.91" height="8.59" class="rd"/><rect x="313.36" y="380.28" width="2.86" height="5.73" class="rd"/><polyline points="320.04,284.86 318.13,293.45 317.18,304.9 317.18,320.17 317.18,386.01" fill="none" stroke="#4169e1" stroke-width="0.7"/></g>
<rect x="296.6" y="279.4" width="64.25" height="116.9" class="bd"/>
<rect x="296.6" y="268.65" width="64.25" height="10.75" class="sp"/>
<line x1="296.6" y1="279.4" x2="360.85" y2="279.4" class="sb"/>
<clipPath id="c30"><rect x="25.2" y="411" width="64.25" height="117.4"/></clipPath>
<rect x="25.2" y="411" width="64.25" height="117.4" fill="#fff"/>
<g clip-path="url(#c30)"><line x1="28.75" y1="411" x2="28.75" y2="528.4" class="mi"/><line x1="40.05" y1="411" x2="40.05" y2="528.4" class="mi"/><line x1="51.35" y1="411" x2="51.35" y2="528.4" class="mi"/><line x1="62.65" y1="411" x2="62.65" y2="528.4" class="mi"/><line x1="73.95" y1="411" x2="73.95" y2="528.4" class="mi"/><line x1="85.25" y1="411" x2="85.25" y2="528.4" class="mi"/><line x1="25.2" y1="429.55" x2="89.45" y2="429.55" class="mi"/><line x1="25.2" y1="456.25" x2="89.45" y2="456.25" class="mi"/><line x1="25.2" y1="482.95" x2="89.45" y2="482.95" class="mi"/><line x1="25.2" y1="509.65" x2="89.45" y2="509.65" class="mi"/><line x1="34.4" y1="411" x2="34.4" y2="528.4" class="ma"/><line x1="45.7" y1="411" x2="45.7" y2="528.4" class="ma"/><line x1="57" y1="411" x2="57" y2="528.4" class="ma"/><line x1="68.3" y1="411" x2="68.3" y2="528.4" class="ma"/><line x1="79.6" y1="411" x2="79.6" y2="528.4" class="ma"/><line x1="25.2" y1="416.2" x2="89.45" y2="416.2" class="ma"/><line x1="25.2" y1="442.9" x2="89.45" y2="442.9" class="ma"/><line x1="25.2" y1="469.6" x2="89.45" y2="469.6" class="ma"/><line x1="25.2" y1="496.3" x2="89.45" y2="496.3" class="ma"/><line x1="25.2" y1="523" x2="89.45" y2="523" class="ma"/><polygon points="46.11,416.18 46.11,490.36 80,490.36 79.71,472.18 79.13,464.91 78.25,457.64 77.53,451.82 76.07,447.45 74.62,441.64 72.44,438.73 72.15,435.82 73.16,434.36 73.16,428.55 72.73,422.73 72.44,416.18" fill="#4169e1" class="lb"/><polygon points="49.89,416.18 50.18,490.36 62.55,490.36 62.55,472.18 61.53,443.09 59.64,428.55 58.18,416.18" fill="#4169e1" class="db"/><rect x="53.82" y="416.18" width="1.89" height="5.82" class="rd"/><rect x="48.73" y="423.89" width="2.18" height="5.38" class="rd"/><rect x="45.09" y="429.71" width="2.91" height="5.38" class="rd"/><rect x="46.11" y="435.09" width="2.91" height="6.55" class="rd"/><rect x="45.09" y="441.64" width="2.91" height="9.45" class="rd"/><rect x="51.64" y="451.53" width="1.75" height="11.2" class="rd"/><rect x="55.71" y="463.16" width="2.04" height="13.38" class="rd"/><rect x="55.71" y="476.55" width="2.04" height="13.82" class="rd"/><polyline points="53.82,416.18 54.84,443.09 56,472.18 56.29,490.36" fill="none" stroke="#4169e1" stroke-width="0.7"/></g>
<rect x="25.2" y="411" width="64.25" height="117.4" class="bd"/>
<rect x="25.2" y="400.25" width="64.25" height="10.75" class="sp"/>
<line x1="25.2" y1="411" x2="89.45" y2="411" class="sb"/>
<clipPath id="c31"><rect x="93.05" y="411" width="64.25" height="117.4"/></clipPath>
<rect x="93.05" y="411" width="64.25" height="117.4" fill="#fff"/>
<g clip-path="url(#c31)"><line x1="96.6" y1="411" x2="96.6" y2="528.4" class="mi"/><line x1="107.9" y1="411" x2="107.9" y2="528.4" class="mi"/><line x1="119.2" y1="411" x2="119.2" y2="528.4" class="mi"/><line x1="130.5" y1="411" x2="130.5" y2="528.4" class="mi"/><line x1="141.8" y1="411" x2="141.8" y2="528.4" class="mi"/><line x1="153.1" y1="411" x2="153.1" y2="528.4" class="mi"/><line x1="93.05" y1="429.55" x2="157.3" y2="429.55" class="mi"/><line x1="93.05" y1="456.25" x2="157.3" y2="456.25" class="mi"/><line x1="93.05" y1="482.95" x2="157.3" y2="482.95" class="mi"/><line x1="93.05" y1="509.65" x2="157.3" y2="509.65" class="mi"/><line x1="102.25" y1="411" x2="102.25" y2="528.4" class="ma"/><line x1="113.55" y1="411" x2="113.55" y2="528.4" class="ma"/><line x1="124.85" y1="411" x2="124.85" y2="528.4" class="ma"/><line x1="136.15" y1="411" x2="136.15" y2="528.4" class="ma"/><line x1="147.45" y1="411" x2="147.45" y2="528.4" class="ma"/><line x1="93.05" y1="416.2" x2="157.3" y2="416.2" class="ma"/><line x1="93.05" y1="442.9" x2="157.3" y2="442.9" class="ma"/><line x1="93.05" y1="469.6" x2="157.3" y2="469.6" class="ma"/><line x1="93.05" y1="496.3" x2="157.3" y2="496.3" class="ma"/><line x1="93.05" y1="523" x2="157.3" y2="523" class="ma"/><polygon points="116.23,427.77 115.36,433.82 113.64,445.91 113.29,471.81 113.29,511.54 132.63,511.54 130.91,471.81 130.04,464.91 129.18,445.91 128.32,427.77" fill="#4169e1" class="lb"/><polygon points="117.09,427.77 117.44,437.27 117.95,511.54 125.73,511.54 124,471.81 122.27,437.27 122.27,427.77" fill="#4169e1" class="db"/><rect x="116.23" y="427.77" width="2.94" height="4.32" class="rd"/><rect x="115.02" y="432.09" width="2.94" height="7.25" class="rd"/><rect x="111.91" y="439.86" width="3.11" height="16.41" class="rd"/><rect x="110.53" y="456.27" width="2.76" height="12.95" class="rd"/><rect x="113.64" y="502.04" width="3.11" height="9.5" class="rd"/><polyline points="120.2,427.77 119.68,511.54" fill="none" stroke="#4169e1" stroke-width="0.7"/></g>
<rect x="93.05" y="411" width="64.25" height="117.4" class="bd"/>
<rect x="93.05" y="400.25" width="64.25" height="10.75" class="sp"/>
<line x1="93.05" y1="411" x2="157.3" y2="411" class="sb"/>
<clipPath id="c32"><rect x="160.9" y="411" width="64.25" height="117.4"/></clipPath>
<rect x="160.9" y="411" width="64.25" height="117.4" fill="#fff"/>
<g clip-path="url(#c32)"><line x1="164.45" y1="411" x2="164.45" y2="528.4" class="mi"/><line x1="175.75" y1="411" x2="175.75" y2="528.4" class="mi"/><line x1="187.05" y1="411" x2="187.05" y2="528.4" class="mi"/><line x1="198.35" y1="411" x2="198.35" y2="528.4" class="mi"/><line x1="209.65" y1="411" x2="209.65" y2="528.4" class="mi"/><line x1="220.95" y1="411" x2="220.95" y2="528.4" class="mi"/><line x1="160.9" y1="429.55" x2="225.15" y2="429.55" class="mi"/><line x1="160.9" y1="456.25" x2="225.15" y2="456.25" class="mi"/><line x1="160.9" y1="482.95" x2="225.15" y2="482.95" class="mi"/><line x1="160.9" y1="509.65" x2="225.15" y2="509.65" class="mi"/><line x1="170.1" y1="411" x2="170.1" y2="528.4" class="ma"/><line x1="181.4" y1="411" x2="181.4" y2="528.4" class="ma"/><line x1="192.7" y1="411" x2="192.7" y2="528.4" class="ma"/><line x1="204" y1="411" x2="204" y2="528.4" class="ma"/><line x1="215.3" y1="411" x2="215.3" y2="528.4" class="ma"/><line x1="160.9" y1="416.2" x2="225.15" y2="416.2" class="ma"/><line x1="160.9" y1="442.9" x2="225.15" y2="442.9" class="ma"/><line x1="160.9" y1="469.6" x2="225.15" y2="469.6" class="ma"/><line x1="160.9" y1="496.3" x2="225.15" y2="496.3" class="ma"/><line x1="160.9" y1="523" x2="225.15" y2="523" class="ma"/><polygon points="182.27,416.18 181.98,428.55 181.55,457.64 181.11,492.55 201.47,492.55 201.91,472.18 201.47,443.09 200.45,428.55 199,422.73 196.82,416.18" fill="#4169e1" class="lb"/><polygon points="185.91,416.18 188.09,428.55 189.55,443.09 189.55,457.64 189.55,492.55 196.82,492.55 196.82,472.18 197.55,443.09 195.36,428.55 192.45,422.73 191,416.18" fill="#4169e1" class="db"/><rect x="183" y="416.18" width="2.18" height="9.45" class="rd"/><rect x="179.36" y="425.93" width="2.62" height="5.82" class="rd"/><rect x="182.27" y="432.18" width="2.62" height="10.91" class="rd"/><rect x="183.44" y="443.09" width="2.47" height="11.64" class="rd"/><rect x="185.47" y="454.73" width="2.62" height="17.45" class="rd"/><rect x="189.55" y="472.18" width="2.18" height="13.09" class="rd"/><rect x="185.47" y="485.27" width="2.62" height="7.27" class="rd"/><polyline points="188.82,416.18 191.73,428.55 193.18,440.18 194.64,457.64 193.62,472.18 193.62,492.55" fill="none" stroke="#4169e1" stroke-width="0.7"/></g>
<rect x="160.9" y="411" width="64.25" height="117.4" class="bd"/>
<rect x="160.9" y="400.25" width="64.25" height="10.75" class="sp"/>
<line x1="160.9" y1="411" x2="225.15" y2="411" class="sb"/>
<clipPath id="c33"><rect x="228.75" y="411" width="64.25" height="117.4"/></clipPath>
<rect x="228.75" y="411" width="64.25" height="117.4" fill="#fff"/>
<g clip-path="url(#c33)"><line x1="232.3" y1="411" x2="232.3" y2="528.4" class="mi"/><line x1="243.6" y1="411" x2="243.6" y2="528.4" class="mi"/><line x1="254.9" y1="411" x2="254.9" y2="528.4" class="mi"/><line x1="266.2" y1="411" x2="266.2" y2="528.4" class="mi"/><line x1="277.5" y1="411" x2="277.5" y2="528.4" class="mi"/><line x1="288.8" y1="411" x2="288.8" y2="528.4" class="mi"/><line x1="228.75" y1="429.55" x2="293" y2="429.55" class="mi"/><line x1="228.75" y1="456.25" x2="293" y2="456.25" class="mi"/><line x1="228.75" y1="482.95" x2="293" y2="482.95" class="mi"/><line x1="228.75" y1="509.65" x2="293" y2="509.65" class="mi"/><line x1="237.95" y1="411" x2="237.95" y2="528.4" class="ma"/><line x1="249.25" y1="411" x2="249.25" y2="528.4" class="ma"/><line x1="260.55" y1="411" x2="260.55" y2="528.4" class="ma"/><line x1="271.85" y1="411" x2="271.85" y2="528.4" class="ma"/><line x1="283.15" y1="411" x2="283.15" y2="528.4" class="ma"/><line x1="228.75" y1="416.2" x2="293" y2="416.2" class="ma"/><line x1="228.75" y1="442.9" x2="293" y2="442.9" class="ma"/><line x1="228.75" y1="469.6" x2="293" y2="469.6" class="ma"/><line x1="228.75" y1="496.3" x2="293" y2="496.3" class="ma"/><line x1="228.75" y1="523" x2="293" y2="523" class="ma"/><polygon points="242.91,416.18 243.64,422.73 245.09,428.55 246.25,443.09 246.25,485.27 262.84,485.27 262.84,443.09 262.55,428.55 261.09,422.73 258.91,416.18" fill="#4169e1" class="lb"/><polygon points="247.27,416.18 248.73,422.73 250.91,428.55 251.64,443.09 251.64,485.27 258.91,485.27 258.91,443.09 258.47,428.55 256.44,422.73 255.27,416.18" fill="#4169e1" class="db"/><rect x="243.64" y="416.18" width="2.62" height="7.27" class="rd"/><rect x="238.98" y="424.18" width="2.91" height="3.64" class="rd"/><rect x="236.07" y="427.82" width="2.91" height="2.91" class="rd"/><rect x="242.91" y="431.16" width="2.91" height="4.65" class="rd"/><rect x="245.38" y="435.82" width="2.33" height="17.45" class="rd"/><rect x="247.27" y="453.27" width="2.18" height="21.82" class="rd"/><rect x="249.16" y="475.09" width="2.04" height="10.18" class="rd"/><polyline points="251.2,416.18 252.36,422.73 254.11,428.55 254.98,443.09 255.27,485.27" fill="none" stroke="#4169e1" stroke-width="0.7"/></g>
<rect x="228.75" y="411" width="64.25" height="117.4" class="bd"/>
<rect x="228.75" y="400.25" width="64.25" height="10.75" class="sp"/>
<line x1="228.75" y1="411" x2="293" y2="411" class="sb"/>
<clipPath id="c34"><rect x="296.6" y="411" width="64.25" height="117.4"/></clipPath>
<rect x="296.6" y="411" width="64.25" height="117.4" fill="#fff"/>
<g clip-path="url(#c34)"><line x1="300.15" y1="411" x2="300.15" y2="528.4" class="mi"/><line x1="311.45" y1="411" x2="311.45" y2="528.4" class="mi"/><line x1="322.75" y1="411" x2="322.75" y2="528.4" class="mi"/><line x1="334.05" y1="411" x2="334.05" y2="528.4" class="mi"/><line x1="345.35" y1="411" x2="345.35" y2="528.4" class="mi"/><line x1="356.65" y1="411" x2="356.65" y2="528.4" class="mi"/><line x1="296.6" y1="429.55" x2="360.85" y2="429.55" class="mi"/><line x1="296.6" y1="456.25" x2="360.85" y2="456.25" class="mi"/><line x1="296.6" y1="482.95" x2="360.85" y2="482.95" class="mi"/><line x1="296.6" y1="509.65" x2="360.85" y2="509.65" class="mi"/><line x1="305.8" y1="411" x2="305.8" y2="528.4" class="ma"/><line x1="317.1" y1="411" x2="317.1" y2="528.4" class="ma"/><line x1="328.4" y1="411" x2="328.4" y2="528.4" class="ma"/><line x1="339.7" y1="411" x2="339.7" y2="528.4" class="ma"/><line x1="351" y1="411" x2="351" y2="528.4" class="ma"/><line x1="296.6" y1="416.2" x2="360.85" y2="416.2" class="ma"/><line x1="296.6" y1="442.9" x2="360.85" y2="442.9" class="ma"/><line x1="296.6" y1="469.6" x2="360.85" y2="469.6" class="ma"/><line x1="296.6" y1="496.3" x2="360.85" y2="496.3" class="ma"/><line x1="296.6" y1="523" x2="360.85" y2="523" class="ma"/><polygon points="321.91,416.59 324.5,443.36 326.74,457.18 328.82,483.08 329.68,501.22 339.18,501.22 338.83,483.08 337.45,465.81 335.73,445.09 337.45,424.36 337.11,416.59" fill="#4169e1" class="lb"/><polygon points="323.98,416.59 325.02,424.36 325.71,434.73 327.95,443.36 329.68,457.18 330.89,483.08 331.41,501.22 336.59,501.22 335.73,483.08 334.34,465.81 333.13,445.09 330.2,434.73 331.41,426.09 337.11,423.5 337.11,416.59" fill="#4169e1" class="db"/><rect x="321.04" y="416.59" width="2.94" height="9.5" class="rd"/><rect x="319.84" y="426.09" width="3.45" height="10.36" class="rd"/><rect x="321.56" y="436.45" width="2.94" height="8.29" class="rd"/><rect x="331.41" y="477.04" width="2.59" height="4.66" class="rd" style="fill-opacity:0.45"/><rect x="335.73" y="482.22" width="3.11" height="19" class="rd"/><polyline points="325.71,416.59 327.44,431.27 329.16,441.63 331.41,446.82 333.13,465.81 334.34,483.08 335.38,501.22" fill="none" stroke="#4169e1" stroke-width="0.7"/></g>
<rect x="296.6" y="411" width="64.25" height="117.4" class="bd"/>
<rect x="296.6" y="400.25" width="64.25" height="10.75" class="sp"/>
<line x1="296.6" y1="411" x2="360.85" y2="411" class="sb"/>
<line x1="23.2" y1="21.4" x2="25.2" y2="21.4" class="tk"/>
<line x1="23.2" y1="48.1" x2="25.2" y2="48.1" class="tk"/>
<line x1="23.2" y1="74.8" x2="25.2" y2="74.8" class="tk"/>
<line x1="23.2" y1="101.5" x2="25.2" y2="101.5" class="tk"/>
<line x1="23.2" y1="128.2" x2="25.2" y2="128.2" class="tk"/>
<line x1="23.2" y1="153" x2="25.2" y2="153" class="tk"/>
<line x1="23.2" y1="179.7" x2="25.2" y2="179.7" class="tk"/>
<line x1="23.2" y1="206.4" x2="25.2" y2="206.4" class="tk"/>
<line x1="23.2" y1="233.1" x2="25.2" y2="233.1" class="tk"/>
<line x1="23.2" y1="259.8" x2="25.2" y2="259.8" class="tk"/>
<line x1="23.2" y1="284.6" x2="25.2" y2="284.6" class="tk"/>
<line x1="23.2" y1="311.3" x2="25.2" y2="311.3" class="tk"/>
<line x1="23.2" y1="338" x2="25.2" y2="338" class="tk"/>
<line x1="23.2" y1="364.7" x2="25.2" y2="364.7" class="tk"/>
<line x1="23.2" y1="391.4" x2="25.2" y2="391.4" class="tk"/>
<line x1="23.2" y1="416.2" x2="25.2" y2="416.2" class="tk"/>
<line x1="23.2" y1="442.9" x2="25.2" y2="442.9" class="tk"/>
<line x1="23.2" y1="469.6" x2="25.2" y2="469.6" class="tk"/>
<line x1="23.2" y1="496.3" x2="25.2" y2="496.3" class="tk"/>
<line x1="23.2" y1="523" x2="25.2" y2="523" class="tk"/>
<line x1="34.4" y1="528.4" x2="34.4" y2="530.4" class="tk"/>
<line x1="45.7" y1="528.4" x2="45.7" y2="530.4" class="tk"/>
<line x1="57" y1="528.4" x2="57" y2="530.4" class="tk"/>
<line x1="68.3" y1="528.4" x2="68.3" y2="530.4" class="tk"/>
<line x1="79.6" y1="528.4" x2="79.6" y2="530.4" class="tk"/>
<line x1="102.25" y1="528.4" x2="102.25" y2="530.4" class="tk"/>
<line x1="113.55" y1="528.4" x2="113.55" y2="530.4" class="tk"/>
<line x1="124.85" y1="528.4" x2="124.85" y2="530.4" class="tk"/>
<line x1="136.15" y1="528.4" x2="136.15" y2="530.4" class="tk"/>
<line x1="147.45" y1="528.4" x2="147.45" y2="530.4" class="tk"/>
<line x1="170.1" y1="528.4" x2="170.1" y2="530.4" class="tk"/>
<line x1="181.4" y1="528.4" x2="181.4" y2="530.4" class="tk"/>
<line x1="192.7" y1="528.4" x2="192.7" y2="530.4" class="tk"/>
<line x1="204" y1="528.4" x2="204" y2="530.4" class="tk"/>
<line x1="215.3" y1="528.4" x2="215.3" y2="530.4" class="tk"/>
<line x1="237.95" y1="528.4" x2="237.95" y2="530.4" class="tk"/>
<line x1="249.25" y1="528.4" x2="249.25" y2="530.4" class="tk"/>
<line x1="260.55" y1="528.4" x2="260.55" y2="530.4" class="tk"/>
<line x1="271.85" y1="528.4" x2="271.85" y2="530.4" class="tk"/>
<line x1="283.15" y1="528.4" x2="283.15" y2="530.4" class="tk"/>
<line x1="305.8" y1="528.4" x2="305.8" y2="530.4" class="tk"/>
<line x1="317.1" y1="528.4" x2="317.1" y2="530.4" class="tk"/>
<line x1="328.4" y1="528.4" x2="328.4" y2="530.4" class="tk"/>
<line x1="339.7" y1="528.4" x2="339.7" y2="530.4" class="tk"/>
<line x1="351" y1="528.4" x2="351" y2="530.4" class="tk"/>
</g>
<g><text x="57.33" y="12.95" class="st">{7C223A<tspan letter-spacing="-0.45">...</tspan></text>
<text x="125.17" y="12.95" class="st">SB07653</text>
<text x="193.02" y="12.95" class="st">SB08337</text>
<text x="260.88" y="12.95" class="st">SB08471</text>
<text x="328.72" y="12.95" class="st">SB08730</text>
<text x="57.33" y="144.55" class="st">SB08943</text>
<text x="125.17" y="144.55" class="st">SB09213</text>
<text x="193.02" y="144.55" class="st">SB09214</text>
<text x="260.88" y="144.55" class="st">SB09355</text>
<text x="328.72" y="144.55" class="st">SB09377</text>
<text x="57.33" y="276.15" class="st">SB09446</text>
<text x="125.17" y="276.15" class="st">SB09667</text>
<text x="193.02" y="276.15" class="st">SB09755</text>
<text x="260.88" y="276.15" class="st">SB09799</text>
<text x="328.72" y="276.15" class="st">SB09800</text>
<text x="57.33" y="407.75" class="st">SB09897</text>
<text x="125.17" y="407.75" class="st">SB09957</text>
<text x="193.02" y="407.75" class="st">SB10029</text>
<text x="260.88" y="407.75" class="st">SB10080</text>
<text x="328.72" y="407.75" class="st">SB10105</text>
<text transform="translate(22,23.9) scale(0.84,1)" class="yl">0</text>
<text transform="translate(22,50.6) scale(0.84,1)" class="yl">50</text>
<text transform="translate(22,77.3) scale(0.84,1)" class="yl">100</text>
<text transform="translate(22,104) scale(0.84,1)" class="yl">150</text>
<text transform="translate(22,130.7) scale(0.84,1)" class="yl">200</text>
<text transform="translate(22,155.5) scale(0.84,1)" class="yl">0</text>
<text transform="translate(22,182.2) scale(0.84,1)" class="yl">50</text>
<text transform="translate(22,208.9) scale(0.84,1)" class="yl">100</text>
<text transform="translate(22,235.6) scale(0.84,1)" class="yl">150</text>
<text transform="translate(22,262.3) scale(0.84,1)" class="yl">200</text>
<text transform="translate(22,287.1) scale(0.84,1)" class="yl">0</text>
<text transform="translate(22,313.8) scale(0.84,1)" class="yl">50</text>
<text transform="translate(22,340.5) scale(0.84,1)" class="yl">100</text>
<text transform="translate(22,367.2) scale(0.84,1)" class="yl">150</text>
<text transform="translate(22,393.9) scale(0.84,1)" class="yl">200</text>
<text transform="translate(22,418.7) scale(0.84,1)" class="yl">0</text>
<text transform="translate(22,445.4) scale(0.84,1)" class="yl">50</text>
<text transform="translate(22,472.1) scale(0.84,1)" class="yl">100</text>
<text transform="translate(22,498.8) scale(0.84,1)" class="yl">150</text>
<text transform="translate(22,525.5) scale(0.84,1)" class="yl">200</text>
<text transform="translate(34.4,535.8) scale(0.84,1)" class="xl">4</text>
<text transform="translate(45.7,535.8) scale(0.84,1)" class="xl">5</text>
<text transform="translate(57,535.8) scale(0.84,1)" class="xl">6</text>
<text transform="translate(68.3,535.8) scale(0.84,1)" class="xl">7</text>
<text transform="translate(79.6,535.8) scale(0.84,1)" class="xl">8</text>
<text transform="translate(102.25,535.8) scale(0.84,1)" class="xl">4</text>
<text transform="translate(113.55,535.8) scale(0.84,1)" class="xl">5</text>
<text transform="translate(124.85,535.8) scale(0.84,1)" class="xl">6</text>
<text transform="translate(136.15,535.8) scale(0.84,1)" class="xl">7</text>
<text transform="translate(147.45,535.8) scale(0.84,1)" class="xl">8</text>
<text transform="translate(170.1,535.8) scale(0.84,1)" class="xl">4</text>
<text transform="translate(181.4,535.8) scale(0.84,1)" class="xl">5</text>
<text transform="translate(192.7,535.8) scale(0.84,1)" class="xl">6</text>
<text transform="translate(204,535.8) scale(0.84,1)" class="xl">7</text>
<text transform="translate(215.3,535.8) scale(0.84,1)" class="xl">8</text>
<text transform="translate(237.95,535.8) scale(0.84,1)" class="xl">4</text>
<text transform="translate(249.25,535.8) scale(0.84,1)" class="xl">5</text>
<text transform="translate(260.55,535.8) scale(0.84,1)" class="xl">6</text>
<text transform="translate(271.85,535.8) scale(0.84,1)" class="xl">7</text>
<text transform="translate(283.15,535.8) scale(0.84,1)" class="xl">8</text>
<text transform="translate(305.8,535.8) scale(0.84,1)" class="xl">4</text>
<text transform="translate(317.1,535.8) scale(0.84,1)" class="xl">5</text>
<text transform="translate(328.4,535.8) scale(0.84,1)" class="xl">6</text>
<text transform="translate(339.7,535.8) scale(0.84,1)" class="xl">7</text>
<text transform="translate(351,535.8) scale(0.84,1)" class="xl">8</text>
<text x="193.02" y="543.1" class="ti">pH</text>
<text transform="translate(8.7,271.8) rotate(-90)" class="ti">Depth (cm)</text></g>
</svg></div></body></html>
